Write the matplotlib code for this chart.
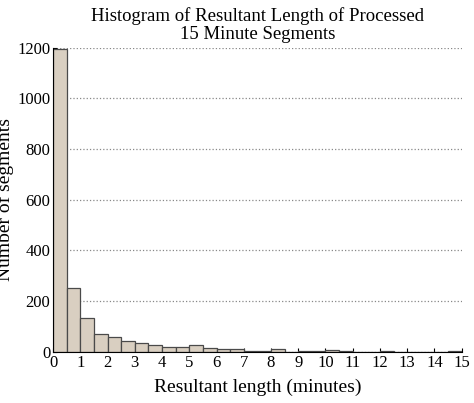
import matplotlib.pyplot as plt
import numpy as np

# bin counts, 0.5 minute bins from 0 to 15
bin_edges = np.arange(0, 15.5, 0.5)
counts = [1195, 250, 135, 72, 58, 42, 35, 25, 20, 20, 25, 15, 10, 12, 5,
          3, 10, 0, 5, 3, 8, 2, 0, 0, 2, 0, 0, 0, 0, 3]

plt.rcParams['font.family'] = 'Liberation Serif'
fig = plt.figure(figsize=(4.74, 4.03), dpi=100)
ax = fig.add_axes([0.112, 0.127, 0.862, 0.755])

ax.bar(bin_edges[:-1], counts, width=0.5, align='edge', color='#d9cfc1',
       edgecolor='#4a4a4a', linewidth=0.9, zorder=2)
ax.set_xlim(0, 15)
ax.set_ylim(0, 1200)
ax.set_xticks(range(0, 16))
ax.set_yticks(range(0, 1201, 200))
ax.yaxis.grid(True, linestyle=':', color='#888888', linewidth=0.9, zorder=0)
for s in ['top', 'right']:
    ax.spines[s].set_visible(False)
ax.tick_params(labelsize=12, direction='in', length=3, pad=2)
ax.set_xlabel('Resultant length (minutes)', fontsize=14, labelpad=6)
ax.set_ylabel('Number of segments', fontsize=14, labelpad=2)
ax.set_title('Histogram of Resultant Length of Processed\n15 Minute Segments',
             fontsize=13.5, linespacing=1.1)

fig.savefig('out.png', dpi=100)
